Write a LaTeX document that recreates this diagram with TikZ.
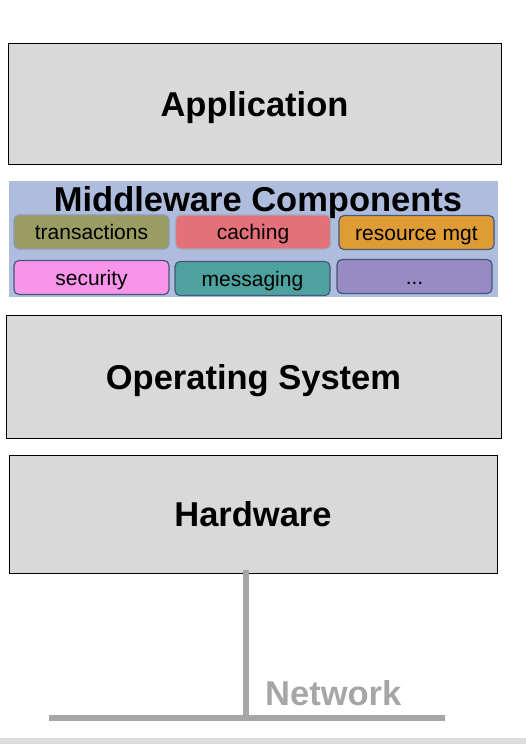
\documentclass[tikz,border=0pt]{standalone}
\usepackage{fontspec}
\setmainfont{Liberation Sans}
\definecolor{layergray}{HTML}{D9D9D9}
\definecolor{mwblue}{HTML}{AEBCDD}
\definecolor{netgray}{HTML}{A6A6A6}
\definecolor{olivec}{HTML}{9A9D62}
\definecolor{pinkred}{HTML}{E4707A}
\definecolor{orangec}{HTML}{DF9C34}
\definecolor{magentac}{HTML}{F894E9}
\definecolor{tealc}{HTML}{4DA19E}
\definecolor{purplec}{HTML}{988BC4}
\definecolor{edgec}{HTML}{45577A}
\begin{document}
\begin{tikzpicture}[x=1pt,y=-1pt,
    layer/.style={draw=black,line width=1pt,fill=layergray,minimum width=493pt,
      text depth=0pt,font=\fontsize{34.5}{36}\selectfont\bfseries},
    comp/.style={draw=edgec,line width=1.2pt,rounded corners=5pt,minimum width=155pt,
      minimum height=34pt,text height=15pt,text depth=0pt,inner sep=0pt,
      font=\fontsize{21}{22}\selectfont},
    net/.style={netgray,line width=6pt}]
  \useasboundingbox (0,0) rectangle (526,744);
  \fill[layergray!90] (0,738) rectangle (526,744);
  \node[layer,minimum height=121pt] (app) at (254.5,103.5) {Application};
  \node[fill=mwblue,minimum width=489pt,minimum height=116pt,inner sep=0pt] (mw) at (253.5,239) {};
  \node[anchor=base,inner sep=0pt,font=\fontsize{34.5}{36}\selectfont\bfseries] (mwtitle) at (258,211) {Middleware Components};
  \node[comp,fill=olivec,draw=edgec!60] (trans) at (91.5,232) {transactions};
  \node[comp,fill=pinkred,draw=edgec!50] (cache) at (253,232) {caching};
  \node[comp,fill=orangec] (resmgt) at (416.5,232.5) {resource mgt};
  \node[comp,fill=magentac] (sec) at (91.5,277.5) {security};
  \node[comp,fill=tealc] (msg) at (252.5,278.5) {messaging};
  \node[comp,fill=purplec] (more) at (414.5,276.5) {...};
  \node[layer,minimum height=123pt,minimum width=495pt] (os) at (253.5,376.5) {Operating System};
  \node[layer,minimum height=118pt,minimum width=488pt] (hw) at (253,514) {Hardware};
  \coordinate (tap) at (246,718);
  \coordinate (netL) at (49,718);
  \coordinate (netR) at (445,718);
  \draw[net] ([yshift=4pt]tap |- hw.south) -- (tap);
  \draw[net] (netL) -- (netR);
  \node[anchor=base west,inner sep=0pt,text=netgray,font=\fontsize{34.5}{36}\selectfont\bfseries] (netlabel) at (265,705) {Network};
\end{tikzpicture}
\end{document}
